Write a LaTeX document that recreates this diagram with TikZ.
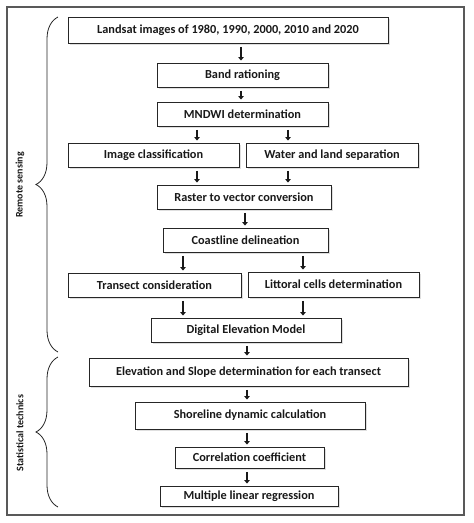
\documentclass[tikz,border=0pt]{standalone}
\usepackage{fontspec}
\setmainfont{Carlito}
\usetikzlibrary{arrows.meta,shadows,decorations.pathreplacing}
\begin{document}
\begin{tikzpicture}[x=1pt,y=-1pt,
  stepbox/.style={draw=black!85, line width=0.9pt, fill=white, inner sep=0pt,
    font=\bfseries\fontsize{12.3}{14}\selectfont, text=black!90,
    drop shadow={shadow xshift=1.5pt, shadow yshift=-1.5pt, opacity=0.25}},
  flow/.style={line width=2.2pt, black!90, -{Triangle[length=3.5pt,width=5.5pt]},
    shorten <=3.5pt, shorten >=2pt},
  bracestyle/.style={decorate, decoration={brace, amplitude=22pt}, line width=0.8pt, black!85},
  sidelabel/.style={rotate=90, font=\bfseries\fontsize{10}{12}\selectfont, text=black!90}
]
\useasboundingbox (0,0) rectangle (474,523);
\draw[line width=1.3pt, black!65] (7,7) rectangle (464,515);

\node[stepbox, minimum width=320pt, minimum height=26pt] (land) at (228,30) {Landsat images of 1980, 1990, 2000, 2010 and 2020};
\node[stepbox, minimum width=171pt, minimum height=24pt] (band) at (242.5,75) {Band rationing};
\node[stepbox, minimum width=171pt, minimum height=24pt] (mndwi) at (242.5,114) {MNDWI determination};
\node[stepbox, minimum width=171pt, minimum height=24pt] (img) at (153.5,155) {Image classification};
\node[stepbox, minimum width=172pt, minimum height=24pt] (water) at (332,155) {Water and land separation};
\node[stepbox, minimum width=174pt, minimum height=24pt] (raster) at (244,197) {Raster to vector conversion};
\node[stepbox, minimum width=165pt, minimum height=24pt] (coast) at (245.5,240) {Coastline delineation};
\node[stepbox, minimum width=173pt, minimum height=24pt] (trans) at (154.5,285) {Transect consideration};
\node[stepbox, minimum width=171pt, minimum height=25pt] (litt) at (333.5,284.5) {Littoral cells determination};
\node[stepbox, minimum width=190pt, minimum height=24pt] (dem) at (246,330) {Digital Elevation Model};
\node[stepbox, minimum width=319pt, minimum height=28pt] (elev) at (248.5,372) {Elevation and Slope determination for each transect};
\node[stepbox, minimum width=230pt, minimum height=27pt] (shore) at (250,415.5) {Shoreline dynamic calculation};
\node[stepbox, minimum width=149pt, minimum height=21pt] (corr) at (249.5,457.5) {Correlation coefficient};
\node[stepbox, minimum width=178pt, minimum height=20pt] (mult) at (249,496) {Multiple linear regression};

\coordinate (colA) at (197,0);
\coordinate (colB) at (288,0);
\coordinate (colC) at (183,0);
\coordinate (colD) at (303,0);
\coordinate (colT) at (241,0);
\coordinate (colR) at (245,0);
\coordinate (colM) at (247,0);

\draw[flow] (land.south -| colT) -- (band.north -| colT);
\draw[flow] (band.south -| colT) -- (mndwi.north -| colT);
\draw[flow] (mndwi.south -| colA) -- (img.north -| colA);
\draw[flow] (mndwi.south -| colB) -- (water.north -| colB);
\draw[flow] (img.south -| colA) -- (raster.north -| colA);
\draw[flow] (water.south -| colB) -- (raster.north -| colB);
\draw[flow] (raster.south -| colR) -- (coast.north -| colR);
\draw[flow] (coast.south -| colC) -- (trans.north -| colC);
\draw[flow] (coast.south -| colD) -- (litt.north -| colD);
\draw[flow] (trans.south -| colC) -- (dem.north -| colC);
\draw[flow] (litt.south -| colD) -- (dem.north -| colD);
\draw[flow] (dem.south -| colM) -- (elev.north -| colM);
\draw[flow] (elev.south -| colM) -- (shore.north -| colM);
\draw[flow] (shore.south -| colM) -- (corr.north -| colM);
\draw[flow] (corr.south -| colM) -- (mult.north -| colM);

\coordinate (b1top) at (58,17);
\coordinate (b1bot) at (58,352);
\coordinate (b2top) at (58,357);
\coordinate (b2bot) at (58,507);
\draw[bracestyle] (b1bot) -- (b1top);
\draw[bracestyle] (b2bot) -- (b2top);
\node[sidelabel] (rs) at (20,185) {Remote sensing};
\node[sidelabel] (st) at (20,433) {Statistical technics};
\end{tikzpicture}
\end{document}
